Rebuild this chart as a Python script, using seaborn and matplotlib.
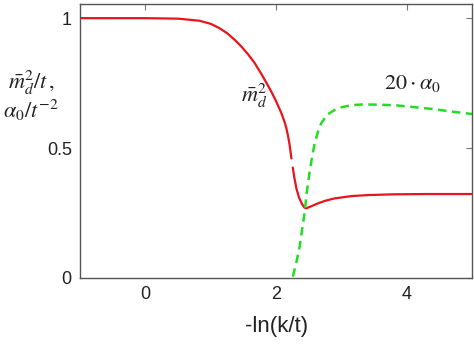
import matplotlib
matplotlib.use("Agg")
import matplotlib.pyplot as plt
import seaborn as sns
import pandas as pd

# squared mass m_d^2/t versus -ln(k/t); the small break near 2.24 splits it into two pieces
x_md = [-1.0, 0.0, 0.5, 0.83, 1.0, 1.13, 1.25, 1.36, 1.46, 1.567, 1.67, 1.77, 1.85,
        1.925, 2.0, 2.08, 2.13, 2.155, 2.18, 2.205, 2.235,
        2.255, 2.28, 2.31, 2.35, 2.40, 2.435, 2.46, 2.52, 2.64, 2.75, 2.89, 3.15, 3.4,
        3.81, 4.3, 5.0]
y_md = [1.0, 1.0, 0.998, 0.99, 0.978, 0.962, 0.942, 0.918, 0.893, 0.862, 0.828, 0.787, 0.752,
        0.718, 0.680, 0.635, 0.60, 0.578, 0.55, 0.515, 0.46,
        0.425, 0.385, 0.345, 0.31, 0.283, 0.271, 0.268, 0.274, 0.287, 0.297, 0.306, 0.315,
        0.319, 0.322, 0.323, 0.323]
seg_md = [0] * 21 + [1] * 16

# 20 * alpha_0
x_alpha = [2.256, 2.31, 2.36, 2.40, 2.435, 2.47, 2.51, 2.55, 2.59, 2.64, 2.69, 2.78,
           2.89, 3.0, 3.15, 3.33, 3.55, 3.81, 4.1, 4.4, 4.7, 5.0]
y_alpha = [0.005, 0.06, 0.12, 0.19, 0.249, 0.33, 0.403, 0.465, 0.518, 0.562, 0.595, 0.628,
           0.646, 0.657, 0.665, 0.668, 0.667, 0.665, 0.658, 0.650, 0.640, 0.631]

x_ticks = [0, 2, 4]
y_ticks = [0, 0.5, 1]
y_ticklabels = ["0", "0.5", "1"]

sns.set_style("white")
plt.rcParams["font.family"] = ["Liberation Sans", "DejaVu Sans"]
plt.rcParams["mathtext.fontset"] = "stix"

fig = plt.figure(figsize=(4.74, 3.44), dpi=100)
ax = fig.add_axes([0.169, 0.192, 0.827, 0.796])

df_md = pd.DataFrame({"x": x_md, "y": y_md, "seg": seg_md})
df_a = pd.DataFrame({"x": x_alpha, "y": y_alpha})

sns.lineplot(data=df_md, x="x", y="y", units="seg", estimator=None, ax=ax,
             color="#e8141c", lw=1.6, sort=False)
sns.lineplot(data=df_a, x="x", y="y", ax=ax, color="#22dd22", lw=1.8, sort=False,
             dashes=False, linestyle=(0, (3.4, 2.2)))

ax.set_xlim(-1.0, 5.0)
ax.set_ylim(0, 1.054)
ax.set_xticks(x_ticks)
ax.set_yticks(y_ticks)
ax.set_yticklabels(y_ticklabels)
ax.tick_params(direction="in", length=4, width=0.8, color="#777777",
               top=True, right=True, labelsize=13, labelcolor="#222222", pad=6)
for s in ax.spines.values():
    s.set_color("#555555")
    s.set_linewidth(1.0)

ax.set_xlabel("-ln(k/t)", fontsize=16, color="#222222", labelpad=9)
ax.set_ylabel("")
fig.text(0.066, 0.722, r"$\bar{m}_d^2/t\,,$" + "\n" + r"$\alpha_0/t^{-2}$",
         fontsize=16, ha="center", va="center", linespacing=1.05, color="#222222")

ax.text(1.67, 0.70, r"$\bar{m}_d^2$", fontsize=16, ha="center", va="center", color="#222222")
ax.text(4.09, 0.75, r"$20\cdot\alpha_0$", fontsize=16, ha="center", va="center", color="#222222")

fig.savefig("out.png", dpi=100)
